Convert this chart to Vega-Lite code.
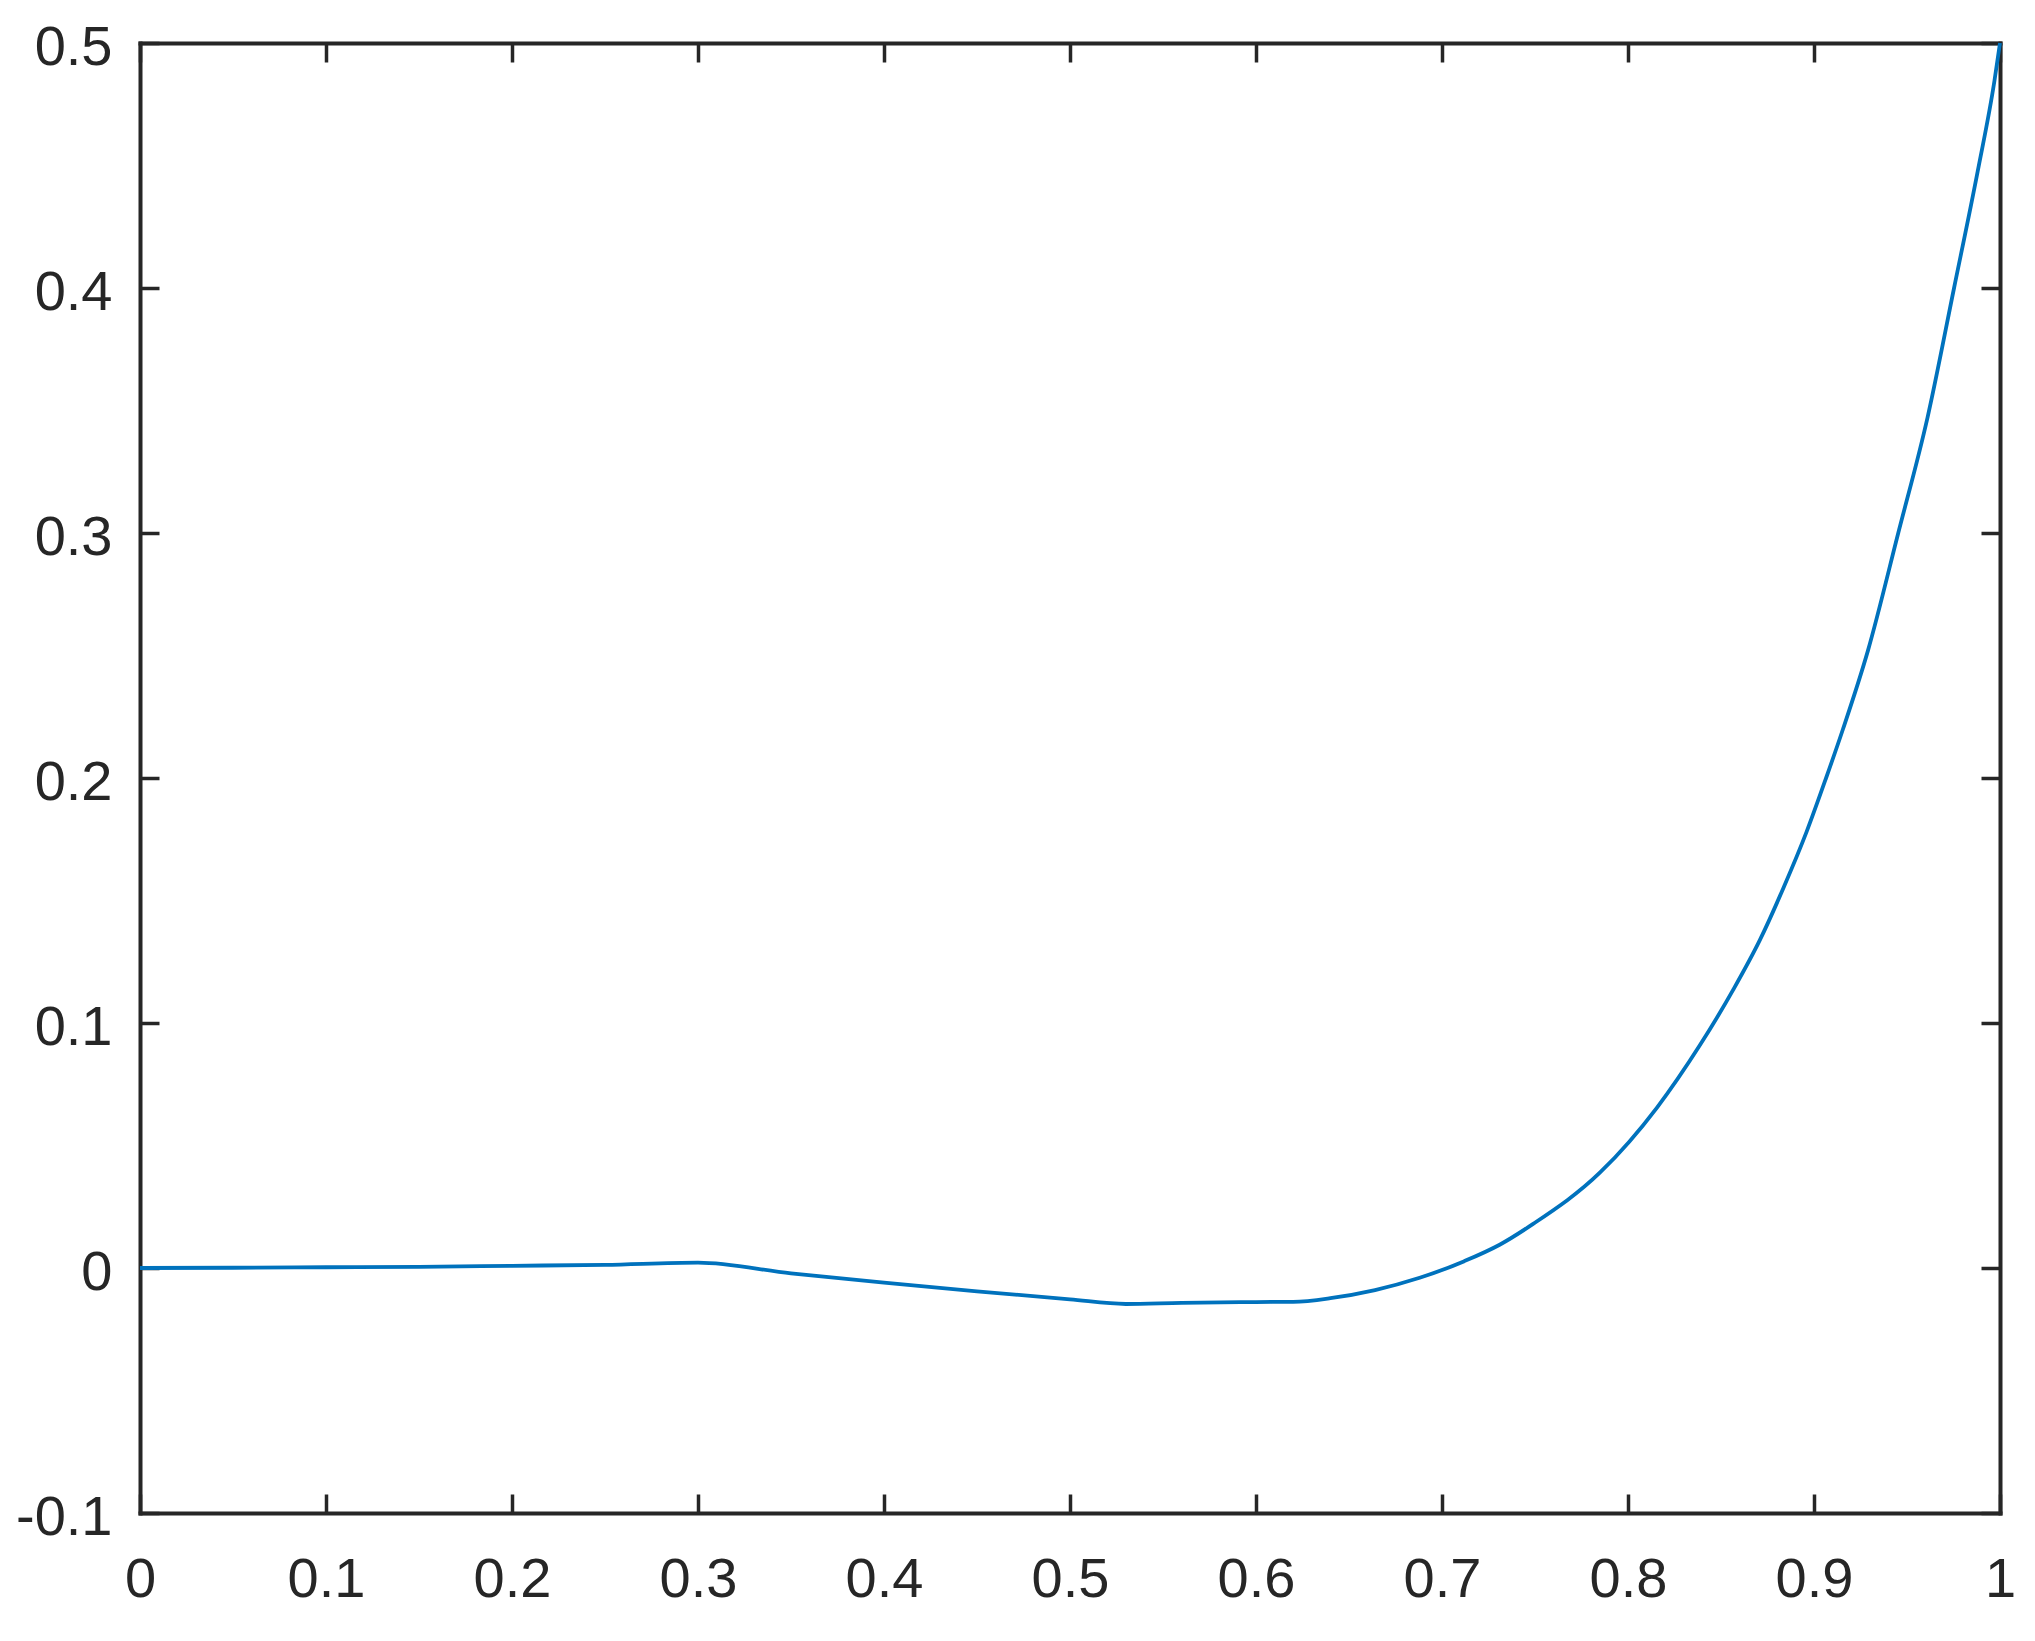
{
  "$schema": "https://vega.github.io/schema/vega-lite/v6.json",
  "width": 1860,
  "height": 1470,
  "autosize": "none",
  "padding": {"left": 140, "top": 43, "right": 35, "bottom": 128},
  "background": "white",
  "config": {
    "view": {"stroke": null},
    "axis": {
      "domainColor": "#262626",
      "domainWidth": 4,
      "domainCap": "square",
      "tickColor": "#262626",
      "tickWidth": 3.5,
      "tickSize": -19,
      "labelFont": "Liberation Sans",
      "labelFontSize": 56,
      "labelColor": "#262626",
      "labelFlush": false,
      "labelOverlap": false,
      "grid": false,
      "title": null
    }
  },
  "data": {
    "values": [
      {"x": 0, "y": 0},
      {"x": 0.05, "y": 0.0001},
      {"x": 0.1, "y": 0.0003},
      {"x": 0.15, "y": 0.0005},
      {"x": 0.2, "y": 0.0009},
      {"x": 0.25, "y": 0.0013},
      {"x": 0.3, "y": 0.0022},
      {"x": 0.35, "y": -0.0022},
      {"x": 0.4, "y": -0.006},
      {"x": 0.45, "y": -0.0095},
      {"x": 0.5, "y": -0.0128},
      {"x": 0.53, "y": -0.0147},
      {"x": 0.56, "y": -0.0142},
      {"x": 0.6, "y": -0.0139},
      {"x": 0.62, "y": -0.0138},
      {"x": 0.64, "y": -0.0123},
      {"x": 0.664, "y": -0.009},
      {"x": 0.688, "y": -0.004},
      {"x": 0.712, "y": 0.0028},
      {"x": 0.731, "y": 0.0095},
      {"x": 0.749, "y": 0.018},
      {"x": 0.785, "y": 0.039},
      {"x": 0.8156, "y": 0.0655},
      {"x": 0.8387, "y": 0.091},
      {"x": 0.8566, "y": 0.1136},
      {"x": 0.871, "y": 0.134},
      {"x": 0.8835, "y": 0.155},
      {"x": 0.896, "y": 0.178},
      {"x": 0.9065, "y": 0.2},
      {"x": 0.9156, "y": 0.22},
      {"x": 0.929, "y": 0.252},
      {"x": 0.9453, "y": 0.3},
      {"x": 0.961, "y": 0.347},
      {"x": 0.9753, "y": 0.4},
      {"x": 0.988, "y": 0.4476},
      {"x": 0.997, "y": 0.4845},
      {"x": 1, "y": 0.5}
    ]
  },
  "layer": [
    {
      "mark": {"type": "line", "color": "#0072BD", "strokeWidth": 3.8, "interpolate": "monotone"},
      "encoding": {
        "x": {
          "field": "x",
          "type": "quantitative",
          "scale": {"domain": [0, 1], "nice": false, "zero": false},
          "axis": {
            "orient": "bottom",
            "values": [0, 0.1, 0.2, 0.3, 0.4, 0.5, 0.6, 0.7, 0.8, 0.9, 1],
            "format": ".1~f",
            "labelPadding": 58
          }
        },
        "y": {
          "field": "y",
          "type": "quantitative",
          "scale": {"domain": [-0.1, 0.5], "nice": false, "zero": false},
          "axis": {
            "orient": "left",
            "values": [-0.1, 0, 0.1, 0.2, 0.3, 0.4, 0.5],
            "format": ".1~f",
            "labelExpr": "replace(datum.label, '\u2212', '-')",
            "labelPadding": 47,
            "labelOffset": 4
          }
        }
      }
    },
    {
      "mark": {"type": "line", "strokeOpacity": 0},
      "encoding": {
        "x": {
          "field": "x",
          "type": "quantitative",
          "axis": {
            "orient": "top",
            "labels": false,
            "values": [0, 0.1, 0.2, 0.3, 0.4, 0.5, 0.6, 0.7, 0.8, 0.9, 1]
          }
        },
        "y": {
          "field": "y",
          "type": "quantitative",
          "axis": {
            "orient": "right",
            "labels": false,
            "values": [-0.1, 0, 0.1, 0.2, 0.3, 0.4, 0.5]
          }
        }
      }
    }
  ],
  "resolve": {"axis": {"x": "independent", "y": "independent"}}
}
